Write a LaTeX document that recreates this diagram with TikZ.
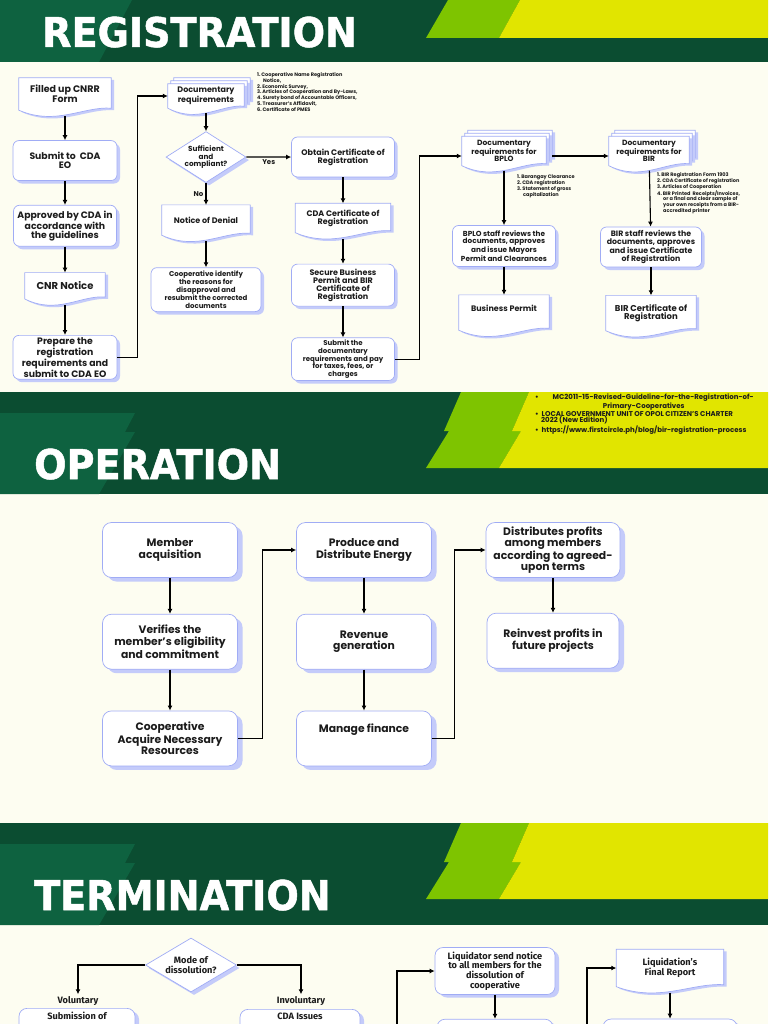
\documentclass[tikz,border=0pt]{standalone}
\usepackage{fontspec}
\setmainfont{Poppins}
\newfontfamily\ttlfont{DejaVu Sans}[FakeStretch=0.93,FakeBold=1.2]
\newfontfamily\endfont{Fira Sans}
\usetikzlibrary{arrows.meta,positioning,calc,shapes.geometric,shadows}

\definecolor{cream}{RGB}{253,253,241}
\definecolor{dkgreen}{RGB}{11,77,49}
\definecolor{ltgreen}{RGB}{14,98,64}
\definecolor{lime}{RGB}{126,196,0}
\definecolor{yel}{RGB}{225,229,0}
\definecolor{bord}{RGB}{160,172,245}
\definecolor{shade}{RGB}{196,203,250}
\definecolor{ink}{RGB}{28,28,28}

\pgfdeclarelayer{bg}
\pgfdeclarelayer{shp}
\pgfsetlayers{bg,shp,main}

\tikzset{
  box/.style={draw=bord,line width=0.7pt,fill=white,rounded corners=6pt,align=center,inner sep=2pt,text=ink},
  regbox/.style={box,font=\fontsize{8}{7.9}\selectfont\bfseries,
                 drop shadow={shadow xshift=3pt,shadow yshift=-3pt,fill=shade,opacity=1}},
  smallbox/.style={regbox,font=\fontsize{7}{7.8}\selectfont\bfseries},
  bigbox/.style={regbox,font=\fontsize{9.3}{8.8}\selectfont\bfseries},
  opbox/.style={box,rounded corners=9pt,minimum width=135pt,minimum height=55pt,
                font=\fontsize{10.8}{11.5}\selectfont\bfseries,
                drop shadow={shadow xshift=5pt,shadow yshift=-4pt,fill=shade,opacity=1}},
  endbox/.style={box,rounded corners=8pt,font=\endfont\fontsize{9.2}{9.6}\selectfont\bfseries,
                 drop shadow={shadow xshift=4pt,shadow yshift=-3pt,fill=shade,opacity=1}},
  doc/.style={align=center,inner sep=1pt,text=ink,font=\fontsize{8}{7.9}\selectfont\bfseries},
  docline/.style={draw=bord,line width=0.7pt,fill=white,
                  drop shadow={shadow xshift=3pt,shadow yshift=-2pt,fill=shade,opacity=1}},
  diam/.style={diamond,draw=bord,line width=0.7pt,fill=white,inner sep=0pt,align=center,text=ink,
               drop shadow={shadow xshift=3pt,shadow yshift=-3pt,fill=shade,opacity=1}},
  dims/.style 2 args={minimum width=#1pt,minimum height=#2pt},
  arr/.style={-{Latex[length=5pt,width=5pt]},line width=1.1pt},
  lbl/.style={font=\fontsize{7}{8}\selectfont\bfseries,text=ink,inner sep=2pt},
  endlbl/.style={lbl,font=\endfont\fontsize{9.2}{10}\selectfont\bfseries},
  lst/.style={align=left,inner sep=0pt,text=ink,font=\fontsize{5}{5.9}\selectfont\bfseries},
  ttl/.style={text=white,inner sep=0pt,anchor=base west,font=\ttlfont\fontsize{41}{41}\selectfont\bfseries},
}

% document shape round a node, #1 = offset of the copy
\newcommand\docpath[2][0pt]{%
  \path[docline] let \p1=(#2.south west), \p2=(#2.north east), \n1={\x2-\x1} in
    (\x1+#1,\y2+#1) -- (\x2+#1,\y2+#1) -- (\x2+#1,\y1+#1+2pt)
    .. controls (\x2+#1-0.3*\n1,\y1+#1+4pt) and (\x1+#1+0.4*\n1,\y1+#1-16pt) .. (\x1+#1,\y1+#1) -- cycle;}
\newcommand\multidoc[1]{\docpath[6pt]{#1}\docpath[3pt]{#1}\docpath{#1}}

\begin{document}
\begin{tikzpicture}[x=1pt,y=-1pt]
  \useasboundingbox (0,0) rectangle (768,1024);
  \clip (0,0) rectangle (768,1024);

  \begin{pgfonlayer}{bg}
    \fill[cream] (0,0) rectangle (768,1024);
    % top banner
    \fill[dkgreen] (0,0) rectangle (768,62);
    \fill[ltgreen] (0,0) -- (132,0) -- (99,62) -- (0,62) -- cycle;
    \fill[lime] (448,0) -- (520,0) -- (499,38) -- (426,38) -- cycle;
    \fill[yel] (520,0) -- (768,0) -- (768,38) -- (499,38) -- cycle;
    % the two lower banners
    \foreach \t in {392,823} {
      \fill[dkgreen] (0,\t) rectangle (768,\t+102);
      \fill[ltgreen] (0,\t+21) -- (135,\t+21) -- (125,\t+40) -- (135,\t+40) -- (99,\t+102) -- (0,\t+102) -- cycle;
      \fill[lime] (461,\t) -- (529,\t) -- (512,\t+39) -- (521,\t+39) -- (499,\t+76) -- (426,\t+76)
                  -- (449,\t+39) -- (444,\t+39) -- cycle;
      \fill[yel] (529,\t) -- (768,\t) -- (768,\t+76) -- (499,\t+76) -- (521,\t+39) -- (512,\t+39) -- cycle;
    }
  \end{pgfonlayer}

  \node[ttl] (regttl) at (42,47) {REGISTRATION};
  \node[ttl] (opttl) at (34,479) {OPERATION};
  \node[ttl] (endttl) at (34,910) {TERMINATION};

  \node[lst,font=\fontsize{7}{6.8}\selectfont\bfseries,anchor=north west] (refs) at (535,394)
    {\textbullet\hspace{14pt}MC2011-15-Revised-Guideline-for-the-Registration-of-\\
     \hspace*{6pt}\makebox[205pt]{Primary-Cooperatives}\\
     \textbullet\hspace{3pt}LOCAL GOVERNMENT UNIT OF OPOL CITIZEN’S CHARTER\\
     \hspace*{6pt}2022 (New Edition)\\
     \textbullet\hspace{3pt}https://www.firstcircle.ph/blog/bir-registration-process};

  % registration, column 1
  \node[doc,dims={92}{32},font=\fontsize{9.5}{8.8}\selectfont\bfseries] (cnrr) at (65,94) {Filled up CNRR\\Form};
  \node[bigbox,dims={104}{40},below=30pt of cnrr] (submit) {Submit to\ \ CDA\\EO};
  \node[bigbox,dims={103}{41},below=24pt of submit] (appr) {Approved by CDA in\\accordance with\\the guidelines};
  \node[doc,dims={80}{26},below=26pt of appr,font=\fontsize{10}{11}\selectfont\bfseries] (cnr) {CNR Notice};
  \node[bigbox,dims={104}{42},below=36pt of cnr] (prep) {Prepare the\\registration\\requirements and\\submit to CDA EO};

  % column 2
  \node[doc,dims={76}{24}] (docreq) at (206,96) {Documentary\\requirements};
  \node[lst,anchor=north west] (reqlist) at (257,72)
    {1.\,Cooperative Name Registration\\\hspace*{6pt}Notice,\\2.\,Economic Survey,\\3.\,Articles of Cooperation and By-Laws,\\
     4.\,Surety bond of Accountable Officers,\\5.\,Treasurer’s Affidavit,\\6.\,Certificate of PMES};
  \node[diam,dims={80}{51},aspect=1.57,font=\fontsize{7.3}{7.8}\selectfont\bfseries,below=23pt of docreq] (suff) {Sufficient\\and\\compliant?};
  \node[doc,dims={88}{30},below=22pt of suff] (denial) {Notice of Denial};
  \node[smallbox,dims={110}{44},below=32pt of denial] (coopid)
    {Cooperative identify\\the reasons for\\disapproval and\\resubmit the corrected\\documents};

  % column 3
  \node[regbox,dims={103}{40}] (obtain) at (343,157) {Obtain Certificate of\\Registration};
  \node[doc,dims={95}{29},below=26pt of obtain] (cdacert) {CDA Certificate of\\Registration};
  \node[regbox,dims={103}{42},below=31pt of cdacert] (secure) {Secure Business\\Permit and BIR\\Certificate of\\Registration};
  \node[smallbox,dims={103}{42},below=31pt of secure] (subdoc)
    {Submit the\\documentary\\requirements and pay\\for taxes, fees, or\\charges};

  % column 4
  \node[doc,dims={84}{29},font=\fontsize{7.5}{7.6}\selectfont\bfseries] (bplo) at (504,151) {Documentary\\requirements for\\BPLO};
  \node[lst,anchor=north west] (bplolist) at (517,175)
    {1.\,Barangay Clearance\\2.\,CDA registration\\3.\,Statement of gross\\\hspace*{6pt}capitalization};
  \node[smallbox,dims={103}{41},font=\fontsize{7.3}{7.4}\selectfont\bfseries] (bplost) at (504,246)
    {BPLO staff reviews the\\documents, approves\\and issue Mayors\\Permit and Clearances};
  \node[doc,dims={90}{35},text depth=9pt,below=28pt of bplost] (bpermit) {Business Permit};

  % column 5
  \node[doc,dims={80}{29},font=\fontsize{7.5}{7.6}\selectfont\bfseries] (birdoc) at (649,151) {Documentary\\requirements for\\BIR};
  \node[lst,anchor=north west] (birlist) at (657,172)
    {1.\,BIR Registration Form 1903\\2.\,CDA Certificate of registration\\3.\,Articles of Cooperation\\
     4.\,BIR Printed\ \ Receipts/Invoices,\\\hspace*{6pt}or a final and clear sample of\\
     \hspace*{6pt}your own receipts from a BIR-\\\hspace*{6pt}accredited printer};
  \node[regbox,dims={101}{40},font=\fontsize{7.8}{7.6}\selectfont\bfseries] (birst) at (651,247)
    {BIR staff reviews the\\documents, approves\\and issue Certificate\\of Registration};
  \node[doc,dims={90}{35},font=\fontsize{8.5}{8}\selectfont\bfseries,below=28pt of birst] (bircert) {BIR Certificate of\\Registration};

  \begin{pgfonlayer}{shp}
    \docpath{cnrr} \docpath{cnr} \docpath{denial} \docpath{cdacert}
    \docpath{bpermit} \docpath{bircert}
    \multidoc{docreq} \multidoc{bplo} \multidoc{birdoc}
  \end{pgfonlayer}

  \draw[arr,shorten <=6pt] (cnrr) -- (submit);
  \draw[arr] (submit) -- (appr);
  \draw[arr] (appr) -- (cnr);
  \draw[arr,shorten <=6pt] (cnr) -- (prep);
  \draw[arr] (prep.east) -- ++(20,0) |- (docreq.west);
  \draw[arr,shorten <=5pt] (docreq) -- (suff);
  \draw[arr] (suff) -- node[lbl,left] {No} (denial);
  \draw[arr,shorten <=6pt] (denial) -- (coopid);
  \draw[arr] (suff) -- node[lbl,below] {Yes} (obtain);
  \draw[arr] (obtain) -- (cdacert);
  \draw[arr,shorten <=6pt] (cdacert) -- (secure);
  \draw[arr] (secure) -- (subdoc);
  \draw[arr] (subdoc.east) -- ++(25,0) |- ([yshift=-5pt]bplo.west);
  \draw[arr] ([xshift=6pt,yshift=-5pt]bplo.east) -- ([yshift=-5pt]birdoc.west);
  \draw[arr,shorten <=5pt] (bplo) -- (bplost);
  \draw[arr] (bplost) -- (bpermit);
  \draw[arr,shorten <=5pt] (birdoc) -- (birst);
  \draw[arr] (birst) -- (bircert);

  % operation
  \node[opbox] (mem) at (170,550) {Member\\acquisition};
  \node[opbox,below=36pt of mem] (ver) {Verifies the\\member’s eligibility\\and commitment};
  \node[opbox,below=41pt of ver] (acq) {Cooperative\\Acquire Necessary\\Resources};
  \node[opbox] (prod) at (364,550) {Produce and\\Distribute Energy};
  \node[opbox,below=36pt of prod] (rev) {Revenue\\generation};
  \node[opbox,below=41pt of rev,text depth=21pt] (fin) {Manage finance};
  \node[opbox,minimum width=134pt] (dist) at (553,550) {Distributes profits\\among members\\according to agreed-\\upon terms};
  \node[opbox,minimum width=132pt,below=35pt of dist] (reinv) {Reinvest profits in\\future projects};

  \draw[arr] (mem) -- (ver);
  \draw[arr] (ver) -- (acq);
  \draw[arr] (acq.east) -- ++(25,0) |- (prod.west);
  \draw[arr] (prod) -- (rev);
  \draw[arr] (rev) -- (fin);
  \draw[arr] (fin.east) -- ++(23,0) |- (dist.west);
  \draw[arr] (dist) -- (reinv);

  % termination
  \node[diam,dims={91}{54},aspect=1.7,font=\endfont\fontsize{9.2}{9.6}\selectfont\bfseries] (mode) at (191,965) {Mode of\\dissolution?};
  \node[endlbl] (vol) at (78,1001) {Voluntary};
  \node[endlbl] (invol) at (301,1001) {Involuntary};
  \node[endbox,anchor=north,minimum width=116pt,inner sep=4pt,text depth=30pt] (sub) at (77,1008) {Submission of};
  \node[endbox,anchor=north,minimum width=120pt,inner sep=4pt,text depth=30pt] (cdaiss) at (300,1009) {CDA Issues};
  \node[endbox,dims={120}{47}] (liq) at (495,971) {Liquidator send notice\\to all members for the\\dissolution of\\cooperative};
  \node[endbox,dims={116}{40},below=24pt of liq] (liqnext) {};
  \node[doc,dims={107}{37},font=\endfont\fontsize{9.2}{9.8}\selectfont\bfseries] (final) at (670,968) {Liquidation’s\\Final Report};
  \node[endbox,dims={134}{42},below=32pt of final] (finnext) {};
  \coordinate (up1) at (397,1030);
  \coordinate (up2) at (587,1030);

  \begin{pgfonlayer}{shp}
    \docpath{final}
  \end{pgfonlayer}

  \draw[arr] (mode.west) -| (vol.north);
  \draw[arr] (mode.east) -| (invol.north);
  \draw[arr] (up1) |- (liq.west);
  \draw[arr] (liq) -- (liqnext);
  \draw[arr] (up2) |- (final.west);
  \draw[arr,shorten <=6pt] (final) -- (finnext);
\end{tikzpicture}
\end{document}
